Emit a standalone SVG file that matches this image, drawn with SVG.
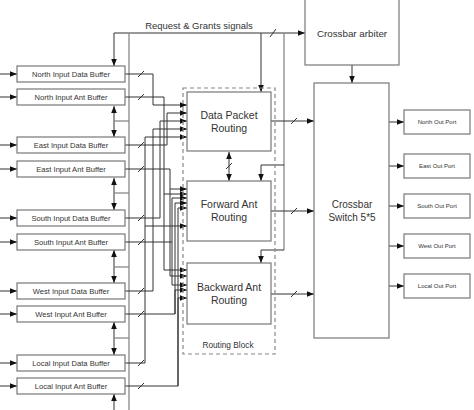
<svg xmlns="http://www.w3.org/2000/svg" width="474" height="410" viewBox="0 0 474 410">
<defs>
<marker id="a" viewBox="0 0 10 10" refX="10" refY="5" markerWidth="7" markerHeight="7" markerUnits="userSpaceOnUse" orient="auto-start-reverse"><path d="M0,1 L10,5 L0,9 z" fill="#111"/></marker>
</defs>
<style>
.box{fill:#fff;stroke:#777;stroke-width:1.2}
.w{fill:none;stroke:#333;stroke-width:1}
.g{fill:none;stroke:#888;stroke-width:1.3}
.t{font-family:"Liberation Sans",Arial,sans-serif;fill:#333;text-anchor:middle}
.s{font-size:7.6px}
.m{font-size:10.5px}
.p{font-size:6px}
</style>
<rect width="474" height="410" fill="#fff"/>
<g id="connectors">
<path class="w" d="M114,33 H305" marker-end="url(#a)"/>
<path class="w" d="M114,33 V66" marker-end="url(#a)"/>
<path class="g" d="M129,33 V410"/>
<path class="w" d="M261,33 V92" marker-end="url(#a)"/>
<path class="g" d="M284,33 V250"/>
<path class="w" d="M284,165 H261 V181" marker-end="url(#a)"/>
<path class="w" d="M284,250 H261 V263" marker-end="url(#a)"/>
<path class="w" d="M270,37 L276,29"/>
<path class="w" d="M114,106 V137" marker-start="url(#a)" marker-end="url(#a)"/>
<path class="g" d="M114,121 H129"/>
<path class="w" d="M114,178 V210" marker-start="url(#a)" marker-end="url(#a)"/>
<path class="g" d="M114,193 H129"/>
<path class="w" d="M114,250 V283" marker-start="url(#a)" marker-end="url(#a)"/>
<path class="g" d="M114,267 H129"/>
<path class="w" d="M114,322 V355" marker-start="url(#a)" marker-end="url(#a)"/>
<path class="g" d="M114,338 H129"/>
<path class="w" d="M114,410 V394" marker-end="url(#a)"/>
<path class="w" d="M0,74 H17" marker-end="url(#a)"/>
<path class="w" d="M0,97 H17" marker-end="url(#a)"/>
<path class="w" d="M0,145 H17" marker-end="url(#a)"/>
<path class="w" d="M0,169 H17" marker-end="url(#a)"/>
<path class="w" d="M0,218 H17" marker-end="url(#a)"/>
<path class="w" d="M0,242 H17" marker-end="url(#a)"/>
<path class="w" d="M0,291 H17" marker-end="url(#a)"/>
<path class="w" d="M0,314 H17" marker-end="url(#a)"/>
<path class="w" d="M0,363 H17" marker-end="url(#a)"/>
<path class="w" d="M0,386 H17" marker-end="url(#a)"/>
<path class="w" d="M138,77 L144,71 M138,100 L144,94 M138,148 L144,142 M138,172 L144,166 M138,221 L144,215 M138,245 L144,239 M138,294 L144,288 M138,317 L144,311 M138,366 L144,360 M138,389 L144,383"/>
<path class="w" d="M125,74 H153 V105 H187" marker-end="url(#a)"/>
<path class="w" d="M125,145 H167 V113 H187" marker-end="url(#a)"/>
<path class="w" d="M125,218 H160 V121 H187" marker-end="url(#a)"/>
<path class="w" d="M125,291 H153 V129 H187" marker-end="url(#a)"/>
<path class="w" d="M125,363 H145 V137 H187" marker-end="url(#a)"/>
<path class="w" d="M125,169 H170 V189 H187" marker-end="url(#a)"/>
<path class="w" d="M125,97 H164 V194 H187" marker-end="url(#a)"/>
<path class="w" d="M125,242 H172 V198 H187" marker-end="url(#a)"/>
<path class="w" d="M125,314 H175 V203 H187" marker-end="url(#a)"/>
<path class="w" d="M125,386 H178 V208 H187" marker-end="url(#a)"/>
<path class="w" d="M145,226 H187" marker-end="url(#a)"/>
<path class="w" d="M164,194 V270 H187" marker-end="url(#a)"/>
<path class="w" d="M170,189 V276 H187" marker-end="url(#a)"/>
<path class="w" d="M172,242 V285 H187" marker-end="url(#a)"/>
<path class="w" d="M175,314 V290 H187" marker-end="url(#a)"/>
<path class="w" d="M178,386 V298 H187" marker-end="url(#a)"/>
<path class="w" d="M229,152 V181" marker-start="url(#a)" marker-end="url(#a)"/>
<path class="w" d="M226,169 L232,163"/>
<path class="w" d="M271,121 H314" marker-end="url(#a)"/>
<path class="w" d="M291,124 L297,118"/>
<path class="w" d="M271,211 H314" marker-end="url(#a)"/>
<path class="w" d="M291,214 L297,208"/>
<path class="w" d="M271,294 H314" marker-end="url(#a)"/>
<path class="w" d="M291,297 L297,291"/>
<path class="w" d="M352,65 V83" marker-end="url(#a)"/>
<path class="w" d="M389,122 H404" marker-end="url(#a)"/>
<path class="w" d="M389,166 H404" marker-end="url(#a)"/>
<path class="w" d="M389,206 H404" marker-end="url(#a)"/>
<path class="w" d="M389,246 H404" marker-end="url(#a)"/>
<path class="w" d="M389,286 H404" marker-end="url(#a)"/>
</g>
<text class="t" x="199" y="29" font-size="9.5">Request &amp; Grants signals</text>
<g id="routing-block">
<rect x="183" y="88" width="92" height="266" fill="none" stroke="#888" stroke-width="1.2" stroke-dasharray="4,3"/>
<text class="t" x="228" y="348" font-size="8.3">Routing Block</text>
</g>
<g id="data-packet-routing"><rect class="box" x="187" y="92" width="84" height="59"/><text class="t m" x="229" y="119">Data Packet</text><text class="t m" x="229" y="132">Routing</text></g>
<g id="forward-ant-routing"><rect class="box" x="187" y="181" width="84" height="60"/><text class="t m" x="229" y="208">Forward Ant</text><text class="t m" x="229" y="221">Routing</text></g>
<g id="backward-ant-routing"><rect class="box" x="187" y="263" width="84" height="61"/><text class="t m" x="229" y="291">Backward Ant</text><text class="t m" x="229" y="304">Routing</text></g>
<g id="crossbar-arbiter"><rect class="box" x="305" y="-1" width="94" height="66"/><text class="t" x="352" y="37" font-size="9.8">Crossbar arbiter</text></g>
<g id="crossbar-switch"><rect class="box" x="314" y="83" width="75" height="255"/><text class="t" x="352" y="208" font-size="10">Crossbar</text><text class="t" x="352" y="221" font-size="10">Switch 5*5</text></g>
<g id="north-out"><rect class="box" x="404" y="110" width="66" height="24"/><text class="t p" x="437" y="124">North Out Port</text></g>
<g id="east-out"><rect class="box" x="404" y="154" width="66" height="24"/><text class="t p" x="437" y="168">East Out Port</text></g>
<g id="south-out"><rect class="box" x="404" y="194" width="66" height="24"/><text class="t p" x="437" y="208">South Out Port</text></g>
<g id="west-out"><rect class="box" x="404" y="234" width="66" height="24"/><text class="t p" x="437" y="248">West Out Port</text></g>
<g id="local-out"><rect class="box" x="404" y="274" width="66" height="24"/><text class="t p" x="437" y="288">Local Out Port</text></g>
<g id="north-data"><rect class="box" x="17" y="66" width="108" height="16"/><text class="t s" x="71" y="77">North Input Data Buffer</text></g>
<g id="north-ant"><rect class="box" x="17" y="89" width="108" height="16"/><text class="t s" x="71" y="100">North Input Ant Buffer</text></g>
<g id="east-data"><rect class="box" x="17" y="137" width="108" height="16"/><text class="t s" x="71" y="148">East Input Data Buffer</text></g>
<g id="east-ant"><rect class="box" x="17" y="161" width="108" height="16"/><text class="t s" x="71" y="172">East Input Ant Buffer</text></g>
<g id="south-data"><rect class="box" x="17" y="210" width="108" height="16"/><text class="t s" x="71" y="221">South Input Data Buffer</text></g>
<g id="south-ant"><rect class="box" x="17" y="234" width="108" height="16"/><text class="t s" x="71" y="245">South Input Ant Buffer</text></g>
<g id="west-data"><rect class="box" x="17" y="283" width="108" height="16"/><text class="t s" x="71" y="294">West Input Data Buffer</text></g>
<g id="west-ant"><rect class="box" x="17" y="306" width="108" height="16"/><text class="t s" x="71" y="317">West Input Ant Buffer</text></g>
<g id="local-data"><rect class="box" x="17" y="355" width="108" height="16"/><text class="t s" x="71" y="366">Local Input Data Buffer</text></g>
<g id="local-ant"><rect class="box" x="17" y="378" width="108" height="16"/><text class="t s" x="71" y="389">Local Input Ant Buffer</text></g>
</svg>
